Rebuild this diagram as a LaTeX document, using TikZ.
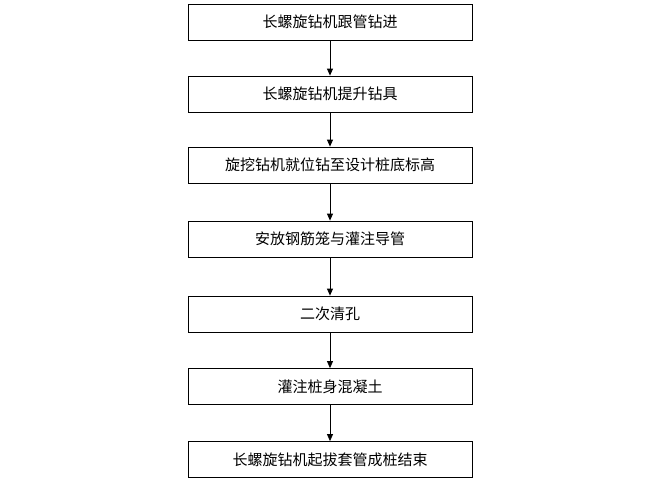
\documentclass[tikz,border=0pt]{standalone}
\usepackage{fontspec}
\newfontfamily\cjk{Noto Sans CJK SC}
\usetikzlibrary{arrows.meta}
\begin{document}
\begin{tikzpicture}[x=1pt,y=-1pt,
  stepbox/.style={draw,line width=0.8pt,minimum width=284pt,minimum height=36pt,inner sep=0pt,font=\cjk\fontsize{15}{18}\selectfont},
  conn/.style={draw,line width=0.8pt,-{Triangle[length=7pt,width=6pt]}}]
\useasboundingbox (0,0) rectangle (666,485);
\node[stepbox] (a) at (330,22) {长螺旋钻机跟管钻进};
\node[stepbox] (b) at (330,94) {长螺旋钻机提升钻具};
\node[stepbox] (c) at (330,165) {旋挖钻机就位钻至设计桩底标高};
\node[stepbox] (d) at (330,239) {安放钢筋笼与灌注导管};
\node[stepbox] (e) at (330,314) {二次清孔};
\node[stepbox] (f) at (330,386.5) {灌注桩身混凝土};
\node[stepbox] (g) at (330,459.5) {长螺旋钻机起拔套管成桩结束};
\foreach \u/\v in {a/b,b/c,c/d,d/e,e/f,f/g} \draw[conn] (\u) -- (\v);
\end{tikzpicture}
\end{document}
